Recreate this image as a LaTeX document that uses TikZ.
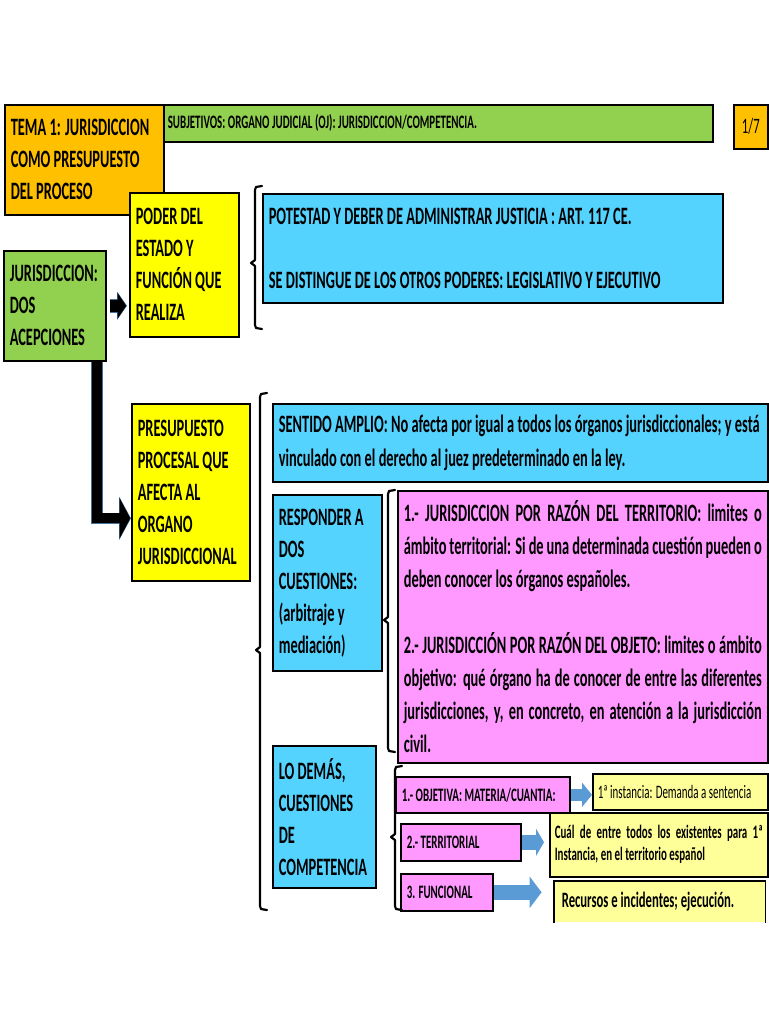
\documentclass[tikz,border=0pt]{standalone}
\usepackage{fontspec}
\setmainfont{Carlito}[FakeStretch=0.576]
\usetikzlibrary{arrows.meta,calc}
\hyphenpenalty=10000
\exhyphenpenalty=10000
\definecolor{orng}{RGB}{255,192,0}
\definecolor{grn}{RGB}{146,208,80}
\definecolor{ylw}{RGB}{255,255,0}
\definecolor{blu}{RGB}{85,211,255}
\definecolor{pnk}{RGB}{255,153,255}
\definecolor{lylw}{RGB}{255,255,153}
\definecolor{arrb}{RGB}{91,155,213}
\definecolor{outl}{RGB}{65,113,156}
\newcommand{\brk}[4]{\draw[brkline] ({#1+7},#2) -- ({#1+1},{#2+1}) -- (#1,{#2+4}) -- (#1,{#3-3}) -- ({#1-4},#3) -- (#1,{#3+3}) -- (#1,{#4-4}) -- ({#1+1},{#4-1}) -- ({#1+7},#4);}
\begin{document}
\begin{tikzpicture}[x=1pt,y=-1pt,
  box/.style={draw=black, line width=1.6pt, anchor=north west, inner xsep=6pt, inner ysep=0pt, align=flush left, font=\bfseries\fontsize{25}{32}\selectfont},
  sz/.style n args={3}{minimum width=#1pt, text width=#2pt, minimum height=#3pt},
  brkline/.style={line width=2.2pt, line join=round, line cap=round},
  blkarrow/.style={draw=black, line cap=butt},
  bluarrow/.style={draw=arrb, line cap=butt}]
\useasboundingbox[fill=white] (0,0) rectangle (768,1024);

% header row
\node[box, fill=grn, sz={552}{538}{37}, inner xsep=7pt, font=\bfseries\fontsize{19}{20}\selectfont] (hdr) at (160,104) {SUBJETIVOS: ORGANO JUDICIAL (OJ): JURISDICCION/COMPETENCIA.};
\node[box, fill=orng, sz={159}{147}{110}] (tema) at (4,104) {TEMA 1: JURISDICCION\\COMO PRESUPUESTO\\DEL PROCESO};
\node[box, fill=orng, sz={34}{30}{44}, inner xsep=2pt, align=center, font=\fontsize{22}{24}\selectfont] (pg) at (733,104) {1/7};

% first branch
\node[box, fill=ylw, sz={109}{97}{144}] (poder) at (129,192) {PODER DEL\\ESTADO Y\\FUNCIÓN QUE\\REALIZA};
\node[box, fill=grn, sz={102}{90}{110}] (jur) at (3,250) {JURISDICCION:\\DOS\\ACEPCIONES};
\node[box, fill=blu, sz={460}{448}{109}] (pot) at (262,193) {POTESTAD Y DEBER DE ADMINISTRAR JUSTICIA : ART. 117 CE.\\[32pt]SE DISTINGUE DE LOS OTROS PODERES: LEGISLATIVO Y EJECUTIVO};

% second branch
\node[box, fill=ylw, sz={118}{106}{177}] (pres) at (131,403) {PRESUPUESTO\\PROCESAL QUE\\AFECTA AL\\ORGANO\\JURISDICCIONAL};
\node[box, fill=blu, sz={495}{483}{78}, font=\bfseries\fontsize{25}{34}\selectfont] (sent) at (272,403) {SENTIDO AMPLIO: No afecta por igual a todos los órganos jurisdiccionales; y está\\vinculado con el derecho al juez predeterminado en la ley.};
\node[box, fill=blu, sz={109}{97}{176}] (resp) at (272,494) {RESPONDER A\\DOS\\CUESTIONES:\\(arbitraje y\\mediación)};
\node[box, fill=pnk, sz={370}{358}{272}, align=justify, font=\bfseries\fontsize{25}{33}\selectfont] (pink) at (397,490) {1.- JURISDICCION POR RAZÓN DEL TERRITORIO: limites o\linebreak ámbito territorial: Si de una determinada cuestión pueden o\linebreak deben conocer los órganos españoles.\\[33pt]2.- JURISDICCIÓN POR RAZÓN DEL OBJETO: limites o ámbito\linebreak objetivo: qué órgano ha de conocer de entre las diferentes\linebreak jurisdicciones, y, en concreto, en atención a la jurisdicción\linebreak civil.};
\node[box, fill=blu, sz={103}{91}{142}] (demas) at (272,745) {LO DEMÁS,\\CUESTIONES\\DE\\COMPETENCIA};

% competencia
\node[box, fill=pnk, sz={174}{162}{36}, font=\bfseries\fontsize{19}{20}\selectfont] (p1) at (395,776) {1.- OBJETIVA: MATERIA/CUANTIA:};
\node[box, fill=lylw, sz={175}{165}{36}, inner xsep=5pt, font=\fontsize{19}{20}\selectfont] (y1) at (592,773) {1ª instancia: Demanda a sentencia};
\node[box, fill=pnk, sz={120}{108}{37}, font=\bfseries\fontsize{19}{20}\selectfont] (p2) at (400,823) {2.- TERRITORIAL};
\node[box, fill=lylw, sz={218}{208}{64}, inner xsep=5pt, align=justify, font=\bfseries\fontsize{19}{22}\selectfont] (y2) at (549,812) {Cuál de entre todos los existentes para 1ª\linebreak Instancia, en el territorio español};
\node[box, fill=pnk, sz={92}{80}{37}, font=\bfseries\fontsize{19}{20}\selectfont] (p3) at (400,873) {3. FUNCIONAL};
\node[box, draw=none, fill=lylw, sz={210}{196}{40}, inner xsep=7pt, font=\bfseries\fontsize{22}{22}\selectfont] (y3) at (554,881) {Recursos e incidentes; ejecución.};
\draw[line width=1.6pt] (y3.south west) -- (y3.north west) -- (y3.north east) -- (y3.south east);

% black arrows
\draw[blkarrow, draw=outl, line width=13.5pt, -{Triangle[width=28pt,length=10pt]}] ([xshift=3pt]jur.east) -- ([xshift=-2pt]jur.east -| poder.west);
\draw[blkarrow, line width=12pt, -{Triangle[width=25pt,length=8.5pt]}, shorten >=0.8pt] ([xshift=3pt]jur.east) -- ([xshift=-2pt]jur.east -| poder.west);
\draw[blkarrow, draw=outl, line width=11.5pt, -{Triangle[width=43pt,length=12pt]}] ([xshift=42pt]jur.south) |- ([yshift=-26pt]pres.west);
\draw[blkarrow, line width=10pt, -{Triangle[width=40pt,length=10.5pt]}, shorten >=0.8pt] ([xshift=42pt]jur.south) |- ([yshift=-26pt]pres.west);

% blue arrows
\coordinate (a3end) at ($(p3.east)+(48,0)$);
\draw[bluarrow, line width=12pt, -{Triangle[width=24pt,length=10pt]}] (p1.east) -- (p1.east -| y1.west);
\draw[bluarrow, line width=15pt, -{Triangle[width=27pt,length=8pt]}] (p2.east) -- ([xshift=-5pt]p2.east -| y2.west);
\draw[bluarrow, line width=15pt, -{Triangle[width=31pt,length=12pt]}] (p3.east) -- (a3end);

% brackets
\brk{255}{186}{263}{329}
\brk{260}{393}{650}{910}
\brk{388}{490}{620}{752}
\brk{395}{766}{837}{910}
\end{tikzpicture}
\end{document}
